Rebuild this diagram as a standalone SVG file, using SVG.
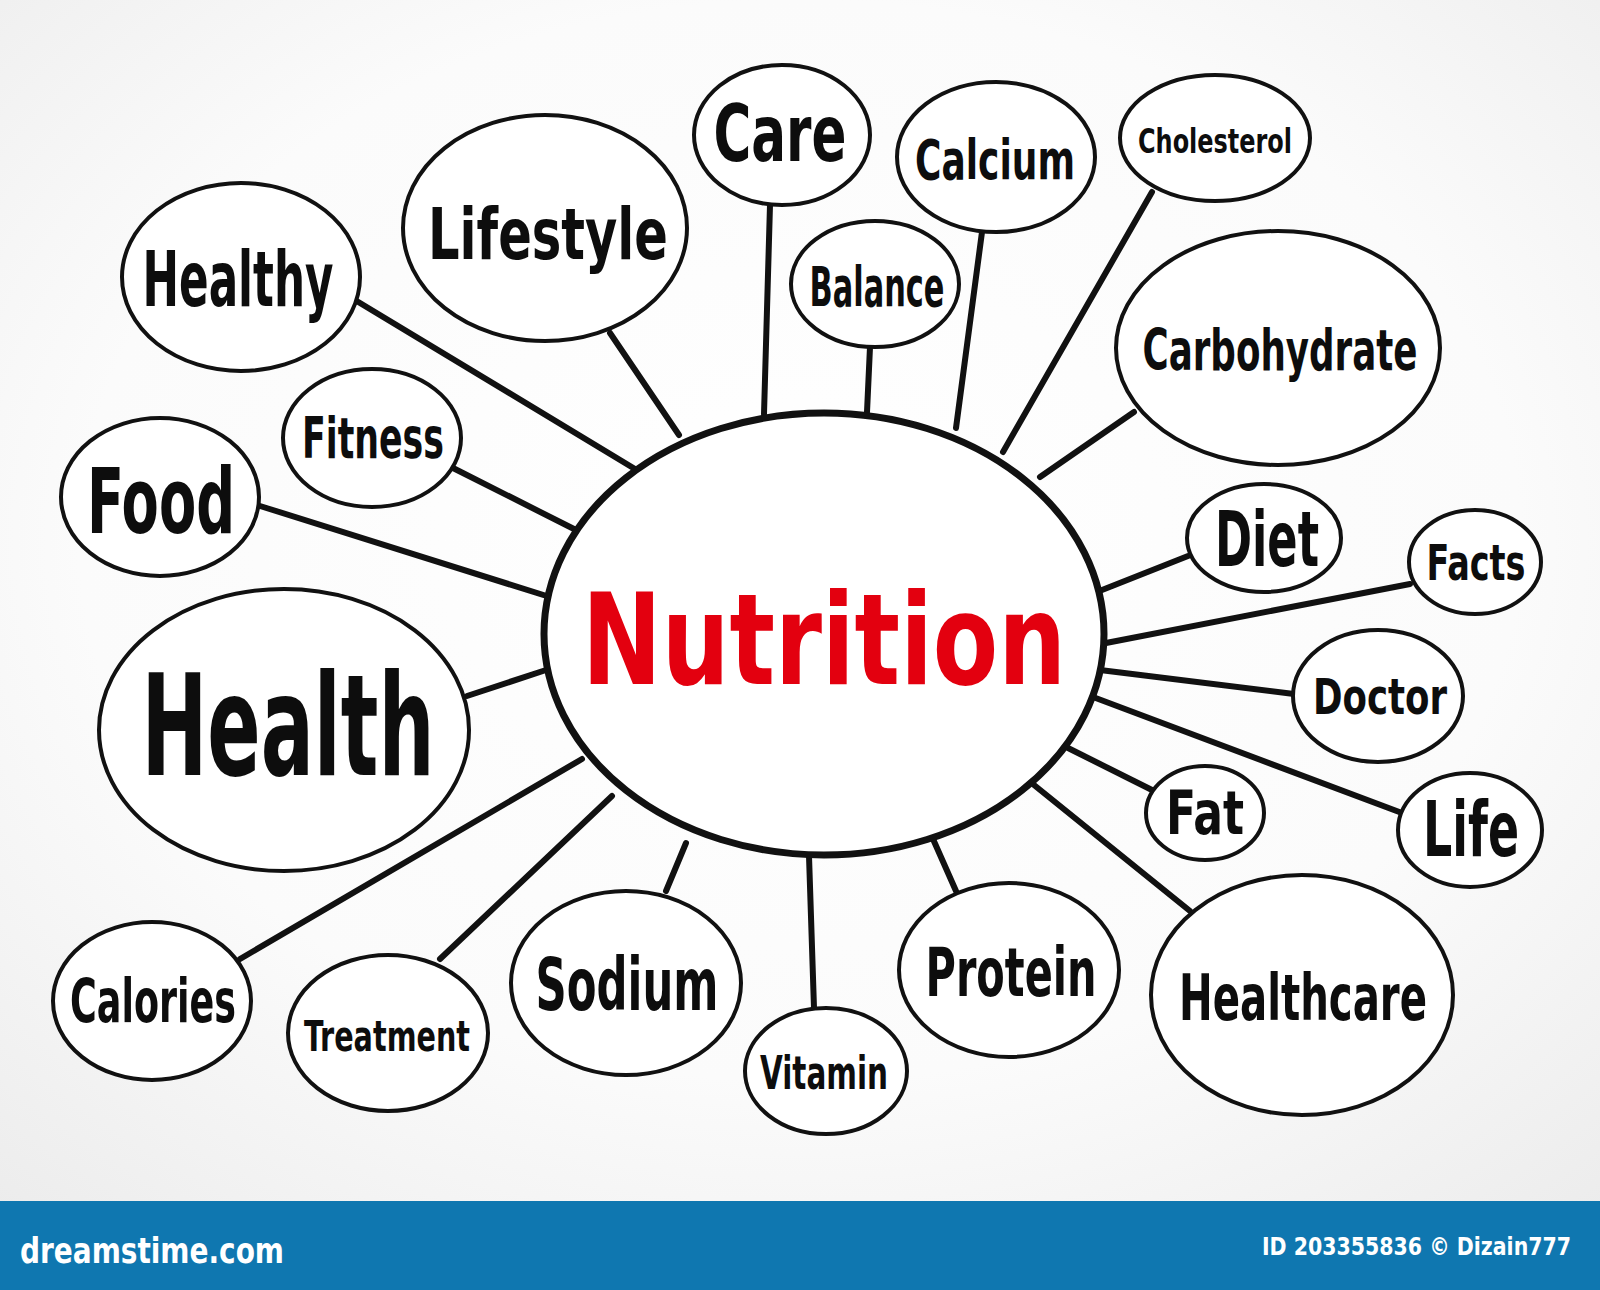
<svg xmlns="http://www.w3.org/2000/svg" width="1600" height="1290" viewBox="0 0 1600 1290">
<defs>
<radialGradient id="bg" cx="50%" cy="45%" r="75%">
<stop offset="0" stop-color="#ffffff"/>
<stop offset="0.6" stop-color="#fbfbfb"/>
<stop offset="1" stop-color="#ececec"/>
</radialGradient>
<style>
.n ellipse{fill:#fff;stroke:#111;stroke-width:4}
.n text{font-family:"DejaVu Sans Condensed","Liberation Sans Narrow","Liberation Sans",sans-serif;font-weight:bold;fill:#0d0d0d;text-anchor:middle}
#connectors line{stroke:#111;stroke-width:6;stroke-linecap:round}
.foot{font-family:"DejaVu Sans Condensed","Liberation Sans",sans-serif;fill:#fff}
</style>
</defs>
<rect x="0" y="0" width="1600" height="1201" fill="url(#bg)"/>
<g id="connectors">
<line x1="355" y1="300" x2="635" y2="469"/>
<line x1="610" y1="333" x2="679" y2="435"/>
<line x1="770" y1="205" x2="764" y2="414"/>
<line x1="870" y1="347" x2="867" y2="412"/>
<line x1="982" y1="232" x2="956" y2="428"/>
<line x1="1152" y1="192" x2="1003" y2="452"/>
<line x1="1134" y1="412" x2="1040" y2="477"/>
<line x1="1188" y1="556" x2="1102" y2="590"/>
<line x1="1410" y1="584" x2="1106" y2="643"/>
<line x1="1294" y1="694" x2="1100" y2="670"/>
<line x1="1402" y1="813" x2="1093" y2="697"/>
<line x1="1152" y1="790" x2="1068" y2="748"/>
<line x1="1190" y1="911" x2="1034" y2="785"/>
<line x1="956" y1="891" x2="933" y2="839"/>
<line x1="814" y1="1008" x2="809" y2="856"/>
<line x1="666" y1="891" x2="686" y2="843"/>
<line x1="440" y1="959" x2="612" y2="796"/>
<line x1="240" y1="959" x2="582" y2="759"/>
<line x1="467" y1="696" x2="546" y2="670"/>
<line x1="260" y1="506" x2="553" y2="598"/>
<line x1="453" y1="468" x2="574" y2="529"/>
</g>
<g id="nutrition" class="n"><ellipse cx="824" cy="634" rx="280" ry="221" style="stroke-width:7"/><text x="824" y="684" font-size="126" textLength="484" lengthAdjust="spacingAndGlyphs" style="fill:#e3000f">Nutrition</text></g>
<g id="healthy" class="n"><ellipse cx="241" cy="277" rx="119" ry="94"/><text x="238" y="306" font-size="76" textLength="191" lengthAdjust="spacingAndGlyphs">Healthy</text></g>
<g id="lifestyle" class="n"><ellipse cx="545" cy="228" rx="142" ry="113"/><text x="548" y="259" font-size="72" textLength="240" lengthAdjust="spacingAndGlyphs">Lifestyle</text></g>
<g id="care" class="n"><ellipse cx="782" cy="135" rx="88" ry="70"/><text x="780" y="161" font-size="78" textLength="133" lengthAdjust="spacingAndGlyphs">Care</text></g>
<g id="calcium" class="n"><ellipse cx="996" cy="157" rx="99" ry="75"/><text x="995" y="179" font-size="56" textLength="160" lengthAdjust="spacingAndGlyphs">Calcium</text></g>
<g id="cholesterol" class="n"><ellipse cx="1215" cy="138" rx="95" ry="63"/><text x="1215" y="153" font-size="34" textLength="154" lengthAdjust="spacingAndGlyphs">Cholesterol</text></g>
<g id="balance" class="n"><ellipse cx="875" cy="284" rx="84" ry="63"/><text x="877" y="306" font-size="56" textLength="135" lengthAdjust="spacingAndGlyphs">Balance</text></g>
<g id="carbohydrate" class="n"><ellipse cx="1278" cy="348" rx="162" ry="117"/><text x="1280" y="370" font-size="57" textLength="275" lengthAdjust="spacingAndGlyphs">Carbohydrate</text></g>
<g id="diet" class="n"><ellipse cx="1264" cy="538" rx="77" ry="54"/><text x="1267" y="566" font-size="76" textLength="104" lengthAdjust="spacingAndGlyphs">Diet</text></g>
<g id="facts" class="n"><ellipse cx="1475" cy="562" rx="66" ry="52"/><text x="1476" y="580" font-size="49" textLength="99" lengthAdjust="spacingAndGlyphs">Facts</text></g>
<g id="doctor" class="n"><ellipse cx="1378" cy="696" rx="85" ry="66"/><text x="1380" y="714" font-size="49" textLength="134" lengthAdjust="spacingAndGlyphs">Doctor</text></g>
<g id="life" class="n"><ellipse cx="1470" cy="830" rx="72" ry="57"/><text x="1471" y="856" font-size="76" textLength="96" lengthAdjust="spacingAndGlyphs">Life</text></g>
<g id="fat" class="n"><ellipse cx="1205" cy="813" rx="59" ry="47"/><text x="1205" y="834" font-size="60" textLength="78" lengthAdjust="spacingAndGlyphs">Fat</text></g>
<g id="healthcare" class="n"><ellipse cx="1302" cy="995" rx="151" ry="120"/><text x="1303" y="1020" font-size="64" textLength="248" lengthAdjust="spacingAndGlyphs">Healthcare</text></g>
<g id="protein" class="n"><ellipse cx="1009" cy="970" rx="110" ry="87"/><text x="1011" y="996" font-size="67" textLength="171" lengthAdjust="spacingAndGlyphs">Protein</text></g>
<g id="vitamin" class="n"><ellipse cx="826" cy="1071" rx="81" ry="63"/><text x="824" y="1089" font-size="47" textLength="128" lengthAdjust="spacingAndGlyphs">Vitamin</text></g>
<g id="sodium" class="n"><ellipse cx="626" cy="983" rx="115" ry="92"/><text x="627" y="1010" font-size="73" textLength="183" lengthAdjust="spacingAndGlyphs">Sodium</text></g>
<g id="treatment" class="n"><ellipse cx="388" cy="1033" rx="100" ry="78"/><text x="387" y="1051" font-size="42" textLength="166" lengthAdjust="spacingAndGlyphs">Treatment</text></g>
<g id="calories" class="n"><ellipse cx="152" cy="1001" rx="99" ry="79"/><text x="153" y="1022" font-size="61" textLength="166" lengthAdjust="spacingAndGlyphs">Calories</text></g>
<g id="health" class="n"><ellipse cx="284" cy="730" rx="185" ry="141"/><text x="288" y="775" font-size="140" textLength="293" lengthAdjust="spacingAndGlyphs">Health</text></g>
<g id="food" class="n"><ellipse cx="160" cy="497" rx="99" ry="79"/><text x="161" y="533" font-size="90" textLength="148" lengthAdjust="spacingAndGlyphs">Food</text></g>
<g id="fitness" class="n"><ellipse cx="372" cy="438" rx="89" ry="69"/><text x="373" y="458" font-size="57" textLength="142" lengthAdjust="spacingAndGlyphs">Fitness</text></g>
<rect x="0" y="1201" width="1600" height="89" fill="#0f77b0"/>
<text class="foot" x="20" y="1263" font-size="36" font-weight="bold" textLength="264" lengthAdjust="spacingAndGlyphs">dreamstime.com</text>
<text class="foot" x="1571" y="1255" font-size="24" font-weight="bold" text-anchor="end" textLength="309" lengthAdjust="spacingAndGlyphs">ID 203355836 © Dizain777</text>
</svg>
